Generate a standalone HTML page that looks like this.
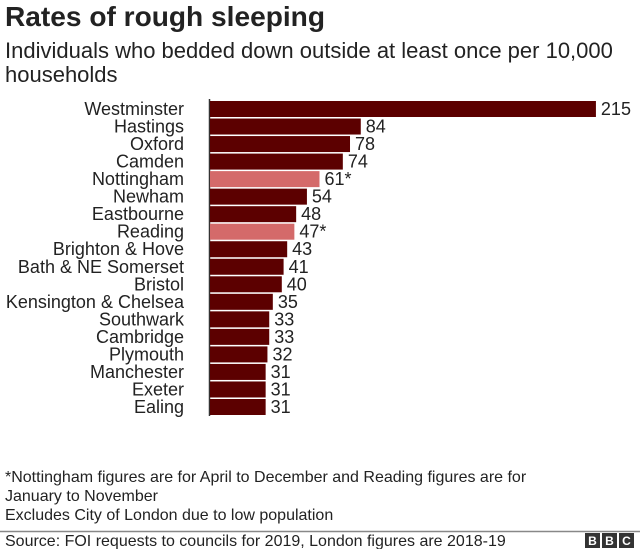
<!DOCTYPE html>
<html><head><meta charset="utf-8"><style>
body{margin:0;width:640px;height:549px;background:#fff;font-family:"Liberation Sans",Arial,sans-serif;color:#222;position:relative;overflow:hidden}
.t{position:absolute;white-space:nowrap}
</style></head><body>
<div class="t" style="left:5px;top:1px;font-size:28.1px;font-weight:bold;color:#222">Rates of rough sleeping</div>
<div class="t" style="left:5px;top:39px;font-size:22px;line-height:24px;">Individuals who bedded down outside at least once per 10,000<br>households</div>
<svg width="640" height="549" style="position:absolute;left:0;top:0" font-family="Liberation Sans, Arial, sans-serif" font-size="18">
<line x1="209.5" y1="99" x2="209.5" y2="416" stroke="#333" stroke-width="1.5"/>
<g id="bars"></g>
<line x1="0" y1="531.5" x2="640" y2="531.5" stroke="#888" stroke-width="1.5"/>
<text x="5" y="482" font-size="16" fill="#222">*Nottingham figures are for April to December and Reading figures are for</text>
<text x="5" y="501" font-size="16" fill="#222">January to November</text>
<text x="5" y="520" font-size="16" fill="#222">Excludes City of London due to low population</text>
<text x="5" y="546" font-size="16" fill="#222">Source: FOI requests to councils for 2019, London figures are 2018-19</text>
<rect x="585" y="533" width="15" height="15" fill="#333"/><rect x="602" y="533" width="15" height="15" fill="#333"/><rect x="619" y="533" width="15" height="15" fill="#333"/>
<text x="592.5" y="545" font-size="12" font-weight="bold" fill="#fff" text-anchor="middle">B</text>
<text x="609.5" y="545" font-size="12" font-weight="bold" fill="#fff" text-anchor="middle">B</text>
<text x="626.5" y="545" font-size="12" font-weight="bold" fill="#fff" text-anchor="middle">C</text>
</svg>
<script>
var d=[["Westminster",215,""],["Hastings",84,""],["Oxford",78,""],["Camden",74,""],["Nottingham",61,"*"],["Newham",54,""],["Eastbourne",48,""],["Reading",47,"*"],["Brighton & Hove",43,""],["Bath & NE Somerset",41,""],["Bristol",40,""],["Kensington & Chelsea",35,""],["Southwark",33,""],["Cambridge",33,""],["Plymouth",32,""],["Manchester",31,""],["Exeter",31,""],["Ealing",31,""]];
var g=document.getElementById("bars"),s="",sc=1.795,n=d.length;
for(var i=0;i<n;i++){var cy=109+i*(298/(n-1)),w=d[i][1]*sc,c=d[i][2]?"#d46a6a":"#5c0000";
var name=d[i][0].replace("&","&amp;");
s+='<rect x="210" y="'+(cy-8)+'" width="'+w+'" height="16" fill="'+c+'"/>';
s+='<text x="184" y="'+(cy+6)+'" text-anchor="end" fill="#222">'+name+'</text>';
s+='<text x="'+(215+w)+'" y="'+(cy+6)+'" fill="#222">'+d[i][1]+d[i][2]+'</text>';}
g.innerHTML=s;
</script>
</body></html>
